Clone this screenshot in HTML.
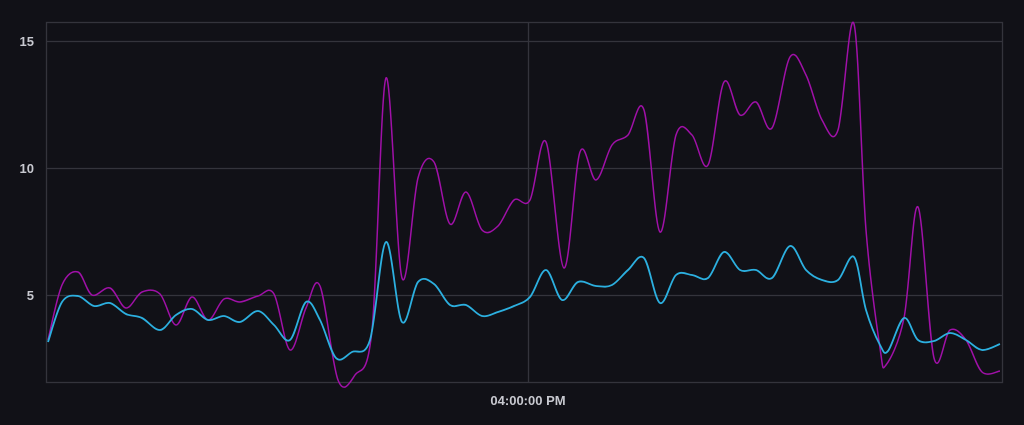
<!DOCTYPE html>
<html><head><meta charset="utf-8"><style>
html,body{margin:0;padding:0;background:#111117;width:1024px;height:425px;overflow:hidden}
svg{display:block}
text{font-family:"Liberation Sans",sans-serif;font-weight:bold;fill:#c8c9d0;font-size:13px}
</style></head><body>
<svg id="s" width="1024" height="425" xmlns="http://www.w3.org/2000/svg">
<rect x="0" y="0" width="1024" height="425" fill="#111117"/>
<g stroke="#34343c" stroke-width="1.3" fill="none">
<rect x="46.5" y="22.5" width="956" height="360"/>
<line x1="46" y1="41.5" x2="1002" y2="41.5"/>
<line x1="46" y1="168.5" x2="1002" y2="168.5"/>
<line x1="46" y1="295.5" x2="1002" y2="295.5"/>
<line x1="528.5" y1="22" x2="528.5" y2="382"/>
</g>
<text x="34" y="46" text-anchor="end">15</text>
<text x="34" y="173" text-anchor="end">10</text>
<text x="34" y="300" text-anchor="end">5</text>
<text x="528" y="405" text-anchor="middle">04:00:00 PM</text>
<path id="m" fill="none" stroke="#a010a8" stroke-width="1.5"/>
<path id="c" fill="none" stroke="#2cb0e0" stroke-width="1.8"/>
</svg>
<script>
var M=[[48,340],[62,285],[78,272],[92,295],[110,288],[126,308],[142,292],[160,294],[176,325],[192,297],[208,320],[224,299],[240,302],[258,296],[274,294],[290,350],[306,308],[320,286],[338,380],[355,375],[372,330],[386,78],[402,278],[418,178],[434,162],[450,224],[466,192],[482,230],[498,226],[514,200],[530,200],[546,142],[564,268],[580,152],[596,180],[612,145],[628,135],[644,110],[660,232],[676,135],[692,135],[708,165],[724,82],[740,115],[756,102],[772,128],[790,57],[806,75],[822,120],[838,130],[854,24],[866,230],[880,348],[886,365],[904,318],[918,207],[934,358],[950,330],[966,340],[982,372],[1000,371]];
var C=[[48,342],[62,302],[78,296],[94,306],[110,303],[126,314],[142,318],[160,330],[176,315],[192,309],[208,320],[224,316],[240,322],[258,311],[274,325],[290,340],[306,302],[320,320],[336,358],[352,352],[370,340],[386,242],[402,322],[418,282],[434,284],[450,305],[466,305],[482,316],[498,312],[514,306],[530,297],[546,270],[562,300],[578,282],[596,286],[612,285],[628,270],[644,258],[660,303],[676,275],[692,275],[708,278],[724,252],[740,270],[756,270],[772,278],[790,246],[806,270],[822,280],[838,280],[854,257],[866,310],[880,345],[888,351],[904,318],[918,340],[934,341],[950,333],[966,340],[982,350],[1000,344]];
function p(a){var d="M"+a[0][0]+","+a[0][1];for(var i=0;i<a.length-1;i++){var p0=a[i-1]||a[i],p1=a[i],p2=a[i+1],p3=a[i+2]||p2;var t=6;d+=" C"+(p1[0]+(p2[0]-p0[0])/t)+","+(p1[1]+(p2[1]-p0[1])/t)+" "+(p2[0]-(p3[0]-p1[0])/t)+","+(p2[1]-(p3[1]-p1[1])/t)+" "+p2[0]+","+p2[1];}return d;}
document.getElementById("m").setAttribute("d",p(M));
document.getElementById("c").setAttribute("d",p(C));
</script>
</body></html>
